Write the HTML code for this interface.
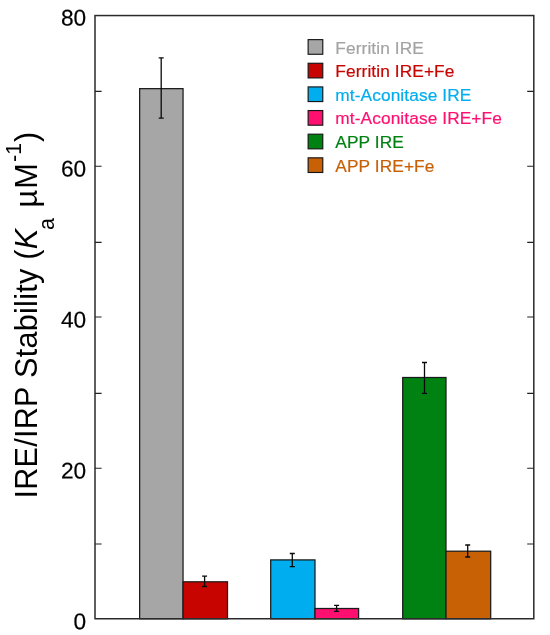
<!DOCTYPE html>
<html lang="en"><head><meta charset="utf-8"><title>IRE/IRP Stability</title>
<style>html,body{margin:0;padding:0;background:#fff;}svg{display:block;}text{font-family:"Liberation Sans",Arial,sans-serif;}</style></head><body>
<svg width="550" height="635" viewBox="0 0 550 635">
<rect x="0" y="0" width="550" height="635" fill="#ffffff"/>
<rect x="139.65" y="88.65" width="43.4" height="530.1" fill="#a6a6a6" stroke="#1a1a1a" stroke-width="1.25"/>
<rect x="183.1" y="581.8" width="44.4" height="37.0" fill="#c80400" stroke="#1a1a1a" stroke-width="1.25"/>
<rect x="270.7" y="559.9" width="44.3" height="58.9" fill="#00adee" stroke="#1a1a1a" stroke-width="1.25"/>
<rect x="315.0" y="608.5" width="43.6" height="10.3" fill="#ff1070" stroke="#1a1a1a" stroke-width="1.25"/>
<rect x="402.7" y="377.5" width="43.3" height="241.3" fill="#008212" stroke="#1a1a1a" stroke-width="1.25"/>
<rect x="446.0" y="551.2" width="44.7" height="67.6" fill="#c86006" stroke="#1a1a1a" stroke-width="1.25"/>
<path d="M161.2 57.95V118.15M158.7 57.95H163.7M158.7 118.15H163.7" fill="none" stroke="#0a0a0a" stroke-width="1.3"/>
<path d="M204.6 576.2V586.5M202.1 576.2H207.1M202.1 586.5H207.1" fill="none" stroke="#0a0a0a" stroke-width="1.3"/>
<path d="M292.3 553.5V566.7M289.8 553.5H294.8M289.8 566.7H294.8" fill="none" stroke="#0a0a0a" stroke-width="1.3"/>
<path d="M336.6 605.3V611.4M334.1 605.3H339.1M334.1 611.4H339.1" fill="none" stroke="#0a0a0a" stroke-width="1.3"/>
<path d="M424.5 362.5V393.3M422.0 362.5H427.0M422.0 393.3H427.0" fill="none" stroke="#0a0a0a" stroke-width="1.3"/>
<path d="M467.7 545.0V557.0M465.2 545.0H470.2M465.2 557.0H470.2" fill="none" stroke="#0a0a0a" stroke-width="1.3"/>
<rect x="95.0" y="15.55" width="438.8" height="603.2" fill="none" stroke="#2b2b2b" stroke-width="1.5"/>
<path d="M95.0 544.00h6.6M533.8 544.00h-6.6M95.0 468.20h6.6M533.8 468.20h-6.6M95.0 393.40h6.6M533.8 393.40h-6.6M95.0 317.00h6.6M533.8 317.00h-6.6M95.0 242.40h6.6M533.8 242.40h-6.6M95.0 166.20h6.6M533.8 166.20h-6.6M95.0 91.30h6.6M533.8 91.30h-6.6" fill="none" stroke="#222" stroke-width="1.15"/>
<text transform="translate(86.2 629.2) rotate(0.03)" font-size="22.7" text-anchor="end" fill="#000" stroke="#000" stroke-width="0.2">0</text>
<text transform="translate(86.2 478.4) rotate(0.03)" font-size="22.7" text-anchor="end" fill="#000" stroke="#000" stroke-width="0.2">20</text>
<text transform="translate(86.2 327.5) rotate(0.03)" font-size="22.7" text-anchor="end" fill="#000" stroke="#000" stroke-width="0.2">40</text>
<text transform="translate(86.2 176.6) rotate(0.03)" font-size="22.7" text-anchor="end" fill="#000" stroke="#000" stroke-width="0.2">60</text>
<text transform="translate(86.2 25.5) rotate(0.03)" font-size="22.7" text-anchor="end" fill="#000" stroke="#000" stroke-width="0.2">80</text>
<rect x="308.13" y="39.63" width="14.65" height="14.65" fill="#a6a6a6" stroke="#161616" stroke-width="1.15"/>
<text transform="translate(335.3 53.5) rotate(0.02)" font-size="17.3" letter-spacing="0.1" fill="#a3a3a3" stroke="#a3a3a3" stroke-width="0.2">Ferritin IRE</text>
<rect x="308.13" y="63.27" width="14.65" height="14.65" fill="#c80400" stroke="#161616" stroke-width="1.15"/>
<text transform="translate(335.3 77.1) rotate(0.02)" font-size="17.3" letter-spacing="0.1" fill="#c80400" stroke="#c80400" stroke-width="0.2">Ferritin IRE+Fe</text>
<rect x="308.13" y="86.91" width="14.65" height="14.65" fill="#00adee" stroke="#161616" stroke-width="1.15"/>
<text transform="translate(335.3 100.8) rotate(0.02)" font-size="17.3" letter-spacing="0.1" fill="#00adee" stroke="#00adee" stroke-width="0.2">mt-Aconitase IRE</text>
<rect x="308.13" y="110.55" width="14.65" height="14.65" fill="#ff1070" stroke="#161616" stroke-width="1.15"/>
<text transform="translate(335.3 124.4) rotate(0.02)" font-size="17.3" letter-spacing="0.1" fill="#ff1070" stroke="#ff1070" stroke-width="0.2">mt-Aconitase IRE+Fe</text>
<rect x="308.13" y="134.19" width="14.65" height="14.65" fill="#008212" stroke="#161616" stroke-width="1.15"/>
<text transform="translate(335.3 148.1) rotate(0.02)" font-size="17.3" letter-spacing="0.1" fill="#008212" stroke="#008212" stroke-width="0.2">APP IRE</text>
<rect x="308.13" y="157.83" width="14.65" height="14.65" fill="#c86006" stroke="#161616" stroke-width="1.15"/>
<text transform="translate(335.3 171.7) rotate(0.02)" font-size="17.3" letter-spacing="0.1" fill="#c86006" stroke="#c86006" stroke-width="0.2">APP IRE+Fe</text>
<text transform="translate(36.9 498.6) rotate(-90)" font-size="30.6" letter-spacing="0.27" fill="#000">IRE/IRP Stability (<tspan font-style="italic">K</tspan><tspan font-size="21.4" dy="17.5" dx="-1.4">a</tspan><tspan dy="-17.5" dx="1.4"> µ</tspan><tspan dx="1">M</tspan><tspan font-size="21.4" dy="-15.8" dx="0.8">-1</tspan><tspan dy="15.8" dx="0.5">)</tspan></text>
</svg></body></html>
